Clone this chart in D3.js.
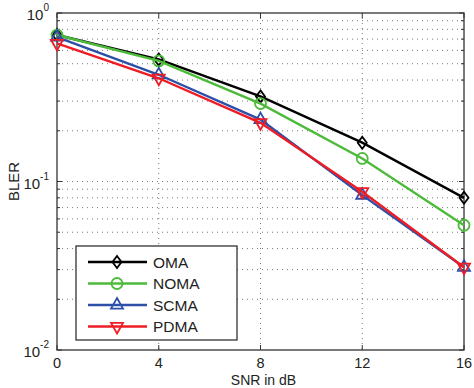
<!DOCTYPE html>
<html>
<head>
<meta charset="utf-8">
<script src="https://cdn.jsdelivr.net/npm/d3@7"></script>
<style>
  body { margin: 0; background: #fff; overflow: hidden; }
  text { font-family: "Liberation Sans", Arial, sans-serif; }
</style>
</head>
<body>
<div id="chart"></div>
<script>
// data
var snr = [0, 4, 8, 12, 16];
var oma  = [0.74, 0.53, 0.32, 0.17, 0.080];
var noma = [0.74, 0.52, 0.29, 0.137, 0.055];
var scma = [0.72, 0.43, 0.233, 0.083, 0.031];
var pdma = [0.66, 0.41, 0.223, 0.087, 0.031];
var seriesNames = ["OMA", "NOMA", "SCMA", "PDMA"];
var xTicks = [0, 4, 8, 12, 16];
var yDecades = [-2, -1, 0];

var W = 474, H = 388;
var margin = {left: 57, right: 10, top: 13, bottom: 38};
var width = W - margin.left - margin.right,
    height = H - margin.top - margin.bottom;

var svg = d3.select("#chart").append("svg")
    .attr("width", W).attr("height", H).style("display", "block");
var g = svg.append("g")
    .attr("transform", "translate(" + margin.left + "," + margin.top + ")");

var x = d3.scaleLinear().domain([0, 16]).range([0, width]);
var y = d3.scaleLog().domain([0.01, 1]).range([height, 0]);

// grid values: decades + minor ticks
var yMinor = [];
for (var e = -2; e < 0; e++) {
  for (var k = 2; k <= 9; k++) yMinor.push(k * Math.pow(10, e));
}

// ---- grid ----
var grid = g.append("g").attr("stroke", "#777").attr("stroke-width", 1)
    .attr("stroke-dasharray", "1,4");
grid.selectAll(".gx").data(xTicks.slice(1, -1)).enter().append("line")
    .attr("x1", function(d){ return x(d); }).attr("x2", function(d){ return x(d); })
    .attr("y1", 0).attr("y2", height);
grid.selectAll(".gy").data(yMinor.concat([0.1])).enter().append("line")
    .attr("x1", 0).attr("x2", width)
    .attr("y1", function(d){ return y(d); }).attr("y2", function(d){ return y(d); });

// ---- ticks (inside, all four sides) ----
var tk = g.append("g").attr("stroke", "#333").attr("stroke-width", 1);
xTicks.forEach(function(d){
  tk.append("line").attr("x1", x(d)).attr("x2", x(d)).attr("y1", height).attr("y2", height - 5);
  tk.append("line").attr("x1", x(d)).attr("x2", x(d)).attr("y1", 0).attr("y2", 5);
});
yMinor.forEach(function(d){
  tk.append("line").attr("x1", 0).attr("x2", 3).attr("y1", y(d)).attr("y2", y(d));
  tk.append("line").attr("x1", width).attr("x2", width - 3).attr("y1", y(d)).attr("y2", y(d));
});
yDecades.forEach(function(e){
  var v = Math.pow(10, e);
  tk.append("line").attr("x1", 0).attr("x2", 5).attr("y1", y(v)).attr("y2", y(v));
  tk.append("line").attr("x1", width).attr("x2", width - 5).attr("y1", y(v)).attr("y2", y(v));
});

// box
g.append("rect").attr("width", width).attr("height", height)
    .attr("fill", "none").attr("stroke", "#333").attr("stroke-width", 1.3);

// ---- tick labels ----
g.selectAll(".xl").data(xTicks).enter().append("text")
    .attr("x", function(d){ return x(d); })
    .attr("y", height + 18)
    .attr("text-anchor", "middle")
    .attr("font-size", 14.5).attr("fill", "#222")
    .text(function(d){ return d; });

yDecades.forEach(function(e){
  var t = g.append("text")
      .attr("x", -8).attr("y", y(Math.pow(10, e)) + 7)
      .attr("text-anchor", "end")
      .attr("font-size", 15).attr("fill", "#222");
  t.append("tspan").text("10");
  t.append("tspan").attr("dy", -9).attr("font-size", 10).text(e);
});

// axis labels
svg.append("text")
    .attr("x", margin.left + width / 2 + 3).attr("y", H - 3)
    .attr("text-anchor", "middle").attr("font-size", 14).attr("fill", "#222")
    .text("SNR in dB");
svg.append("text")
    .attr("transform", "translate(19," + (margin.top + y(0.1)) + ") rotate(-90)")
    .attr("text-anchor", "middle").attr("font-size", 15).attr("fill", "#222")
    .text("BLER");

// ---- series ----
var colors = {OMA: "#000000", NOMA: "#4cbb3a", SCMA: "#2d4fa8", PDMA: "#ee1c24"};
var values = {OMA: oma, NOMA: noma, SCMA: scma, PDMA: pdma};

function marker(sel, name, cx, cy) {
  var c = colors[name];
  var m = sel.append("path").attr("fill", "none").attr("stroke", c).attr("stroke-width", 1.8);
  var s = 6;
  if (name === "OMA") {
    m.attr("d", "M" + cx + "," + (cy - s) + "L" + (cx + s*0.75) + "," + cy + "L" + cx + "," + (cy + s) + "L" + (cx - s*0.75) + "," + cy + "Z");
  } else if (name === "NOMA") {
    m.attr("d", d3.arc()({innerRadius: 0, outerRadius: 5.5, startAngle: 0, endAngle: 2 * Math.PI}))
     .attr("transform", "translate(" + cx + "," + cy + ")");
  } else if (name === "SCMA") {
    m.attr("d", "M" + cx + "," + (cy - s - 1) + "L" + (cx + s) + "," + (cy + s*0.6) + "L" + (cx - s) + "," + (cy + s*0.6) + "Z");
  } else {
    m.attr("d", "M" + cx + "," + (cy + s + 1) + "L" + (cx + s) + "," + (cy - s*0.6) + "L" + (cx - s) + "," + (cy - s*0.6) + "Z");
  }
}

var line = d3.line()
    .x(function(d, i){ return x(snr[i]); })
    .y(function(d){ return y(d); });

seriesNames.forEach(function(name){
  var sg = g.append("g");
  sg.append("path").datum(values[name])
      .attr("d", line)
      .attr("fill", "none").attr("stroke", colors[name]).attr("stroke-width", 2.4);
  values[name].forEach(function(v, i){
    marker(sg, name, x(snr[i]), y(v));
  });
});

// ---- legend ----
var lg = g.append("g").attr("transform", "translate(" + (76 - margin.left) + "," + (246 - margin.top) + ")");
lg.append("rect").attr("width", 161).attr("height", 94)
    .attr("fill", "#fff").attr("stroke", "#222").attr("stroke-width", 1.2);
seriesNames.forEach(function(name, i){
  var ly = 16 + i * 21.5;
  lg.append("line").attr("x1", 12).attr("x2", 71).attr("y1", ly).attr("y2", ly)
      .attr("stroke", colors[name]).attr("stroke-width", 2.4);
  marker(lg, name, 41, ly);
  lg.append("text").attr("x", 77).attr("y", ly + 5.5)
      .attr("font-size", 15.5).attr("fill", "#222").text(name);
});
</script>
</body>
</html>
